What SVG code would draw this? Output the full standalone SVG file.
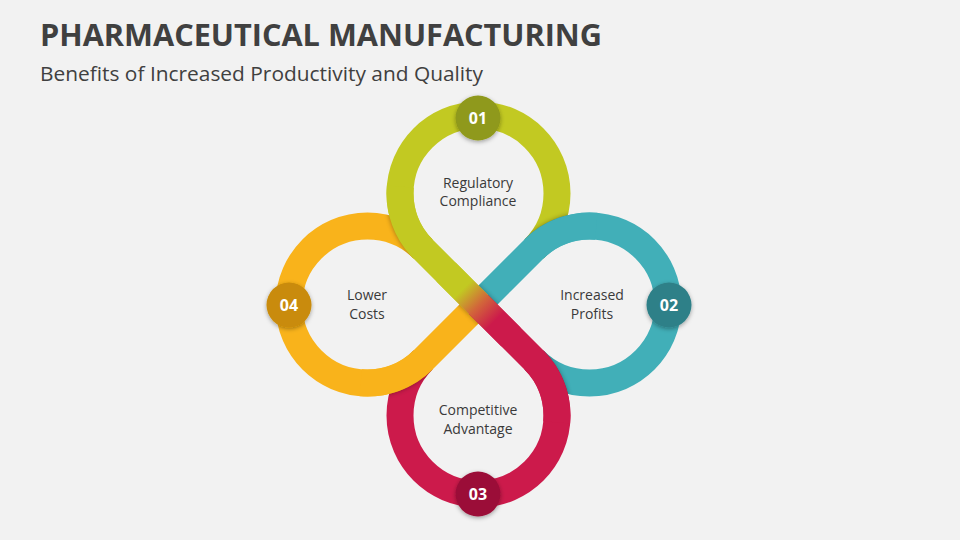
<svg xmlns="http://www.w3.org/2000/svg" xmlns:xlink="http://www.w3.org/1999/xlink" width="960" height="540" viewBox="0 0 960 540">
<style>
.band{fill:none;stroke-width:27;stroke-linecap:butt;stroke-linejoin:round}
.g{stroke:#C2C922}.t{stroke:#41AFB8}.r{stroke:#CC1A4B}.o{stroke:#F9B31B}
.m{fill:none;stroke:#fff;stroke-width:27}
.sh{fill:none;stroke:#000;stroke-width:27;opacity:.35}
.lbl{font-family:"Open Sans","Liberation Sans",sans-serif;font-size:14px;fill:#3A3A3A;text-anchor:middle}
.num{font-family:"Open Sans","Liberation Sans",sans-serif;font-size:16px;font-weight:bold;fill:#fff;text-anchor:middle}
</style>
<defs>
<path id="tailG" d="M423 249 A78.5 78.5 0 1 1 534 249"/>
<path id="tailT" d="M534 249 A78.5 78.5 0 1 1 534 360"/>
<path id="tailR" d="M534 360 A78.5 78.5 0 1 1 423 360"/>
<path id="tailO" d="M423 360 A78.5 78.5 0 1 1 423 249"/>
<path id="headG" d="M478.5 304.5 L423 249 A78.5 78.5 0 0 1 400.3 186.7"/>
<path id="headT" d="M478.5 304.5 L534 249 A78.5 78.5 0 0 1 596.3 226.3"/>
<path id="headR" d="M478.5 304.5 L534 360 A78.5 78.5 0 0 1 556.7 422.3"/>
<path id="headO" d="M478.5 304.5 L423 360 A78.5 78.5 0 0 1 360.7 382.7"/>
<filter id="blur" filterUnits="userSpaceOnUse" x="0" y="0" width="960" height="540"><feGaussianBlur stdDeviation="2.5"/></filter>
<filter id="ds" x="-50%" y="-50%" width="200%" height="200%"><feDropShadow dx="0" dy="1.5" stdDeviation="2" flood-color="#000" flood-opacity=".35"/></filter>
<mask id="mG" maskUnits="userSpaceOnUse" x="0" y="0" width="960" height="540"><use xlink:href="#tailG" class="m"/></mask>
<mask id="mR" maskUnits="userSpaceOnUse" x="0" y="0" width="960" height="540"><use xlink:href="#tailR" class="m"/></mask>
<mask id="mO" maskUnits="userSpaceOnUse" x="0" y="0" width="960" height="540"><use xlink:href="#tailO" class="m"/><use xlink:href="#headO" class="m"/><use xlink:href="#headT" class="m"/></mask>
<mask id="mT" maskUnits="userSpaceOnUse" x="0" y="0" width="960" height="540"><use xlink:href="#tailT" class="m"/><use xlink:href="#headT" class="m"/><use xlink:href="#headO" class="m"/></mask>
<linearGradient id="grad" gradientUnits="userSpaceOnUse" x1="463" y1="289" x2="495" y2="321">
<stop offset="0" stop-color="#C2C922"/>
<stop offset="0.5" stop-color="#D2663A"/>
<stop offset="1" stop-color="#CC1A4B"/>
</linearGradient>
</defs>
<rect width="960" height="540" fill="#F2F2F2"/>
<text x="40" y="46" font-family="'Open Sans','Liberation Sans',sans-serif" font-size="31" font-weight="bold" fill="#404040" textLength="562" lengthAdjust="spacingAndGlyphs">PHARMACEUTICAL MANUFACTURING</text>
<text x="40" y="81" font-family="'Open Sans','Liberation Sans',sans-serif" font-size="20" fill="#404040" textLength="443" lengthAdjust="spacingAndGlyphs">Benefits of Increased Productivity and Quality</text>
<g id="ribbon">
<use xlink:href="#tailG" class="band g"/>
<use xlink:href="#tailT" class="band t"/>
<use xlink:href="#tailR" class="band r"/>
<use xlink:href="#tailO" class="band o"/>
<use xlink:href="#headT" class="sh" filter="url(#blur)" mask="url(#mG)"/>
<use xlink:href="#headO" class="sh" filter="url(#blur)" mask="url(#mR)"/>
<use xlink:href="#headT" class="band t"/>
<use xlink:href="#headO" class="band o"/>
<use xlink:href="#headG" class="sh" filter="url(#blur)" mask="url(#mO)"/>
<use xlink:href="#headR" class="sh" filter="url(#blur)" mask="url(#mT)"/>
<use xlink:href="#headG" class="band g"/>
<use xlink:href="#headR" class="band r"/>
<path d="M446 272 L511 337" class="band" stroke="url(#grad)"/>
</g>
<g id="n1">
<circle cx="478" cy="118" r="22.5" fill="#8F991A" filter="url(#ds)"/>
<text x="478" y="123.5" class="num">01</text>
<text x="478" y="188" class="lbl">Regulatory</text>
<text x="478" y="206" class="lbl">Compliance</text>
</g>
<g id="n2">
<circle cx="669" cy="305" r="22.5" fill="#2F8088" filter="url(#ds)"/>
<text x="669" y="310.5" class="num">02</text>
<text x="592" y="300" class="lbl">Increased</text>
<text x="592" y="319" class="lbl">Profits</text>
</g>
<g id="n3">
<circle cx="478" cy="494" r="22.5" fill="#9B1138" filter="url(#ds)"/>
<text x="478" y="499.5" class="num">03</text>
<text x="478" y="415" class="lbl">Competitive</text>
<text x="478" y="434" class="lbl">Advantage</text>
</g>
<g id="n4">
<circle cx="289" cy="305" r="22.5" fill="#C98B08" filter="url(#ds)"/>
<text x="289" y="310.5" class="num">04</text>
<text x="367" y="300" class="lbl">Lower</text>
<text x="367" y="319" class="lbl">Costs</text>
</g>
</svg>
